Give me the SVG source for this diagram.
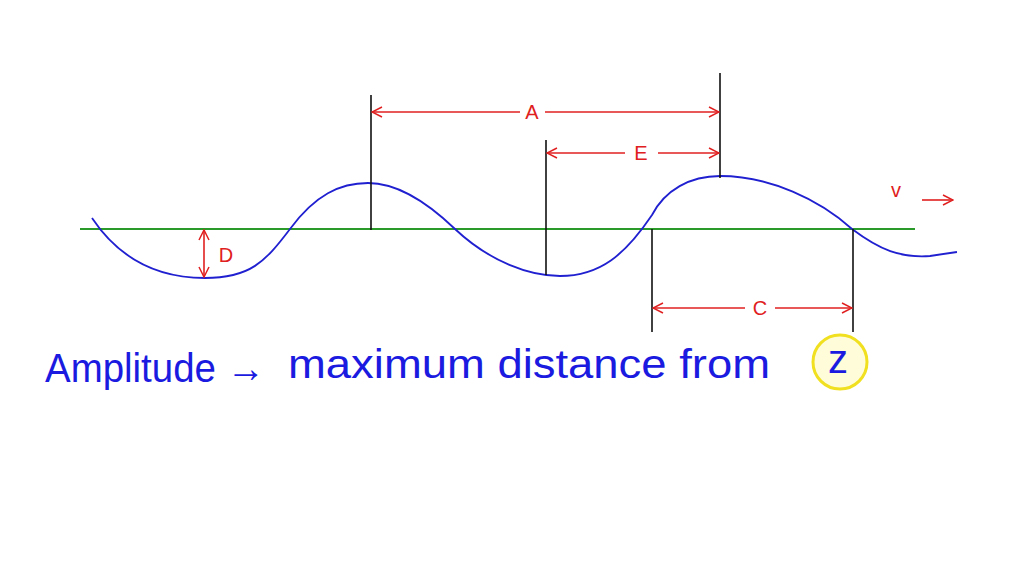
<svg xmlns="http://www.w3.org/2000/svg" width="1024" height="576" viewBox="0 0 1024 576">
<defs>
<marker id="ah" markerWidth="12" markerHeight="12" refX="11" refY="6" orient="auto-start-reverse" markerUnits="userSpaceOnUse">
<path d="M1,1 L11,6 L1,11" fill="none" stroke="#e02020" stroke-width="1.5"/>
</marker>
</defs>
<style>
.blk{stroke:#111;stroke-width:1.6;fill:none}
.red{stroke:#e02020;stroke-width:1.6;fill:none}
.rt{fill:#e02020;font-family:"Liberation Sans",sans-serif;font-size:20px;text-anchor:middle}
.bt{fill:#1a1ae0;font-family:"Liberation Sans",sans-serif;font-size:40px}
</style>
<rect width="1024" height="576" fill="#fff"/>
<line x1="80" y1="229" x2="915" y2="229" stroke="#2a9a2a" stroke-width="1.8"/>
<path d="M92,218 C120,260 160,278 205,278 C250,278 265,262 290,229 C315,195 340,183 368,183 C400,183 430,205 455,229 C490,262 530,276 560,276 C600,276 625,255 652,215 C665,190 690,176 720,176 C770,176 820,200 852,229 C880,250 900,258 930,256 L957,252" fill="none" stroke="#2020d0" stroke-width="1.8"/>
<g id="verticals">
<line class="blk" x1="371" y1="95" x2="371" y2="230"/>
<line class="blk" x1="720" y1="73" x2="720" y2="178"/>
<line class="blk" x1="546" y1="140" x2="546" y2="275"/>
<line class="blk" x1="652" y1="229" x2="652" y2="332"/>
<line class="blk" x1="853" y1="229" x2="853" y2="332"/>
</g>
<g id="connectors">
<line class="red" x1="372" y1="112" x2="520" y2="112" marker-start="url(#ah)"/>
<line class="red" x1="545" y1="112" x2="719" y2="112" marker-end="url(#ah)"/>
<line class="red" x1="547" y1="153" x2="625" y2="153" marker-start="url(#ah)"/>
<line class="red" x1="658" y1="153" x2="719" y2="153" marker-end="url(#ah)"/>
<line class="red" x1="653" y1="308" x2="745" y2="308" marker-start="url(#ah)"/>
<line class="red" x1="775" y1="308" x2="852" y2="308" marker-end="url(#ah)"/>
<line class="red" x1="204" y1="230" x2="204" y2="277" marker-start="url(#ah)" marker-end="url(#ah)"/>
<line class="red" x1="922" y1="200" x2="953" y2="200" marker-end="url(#ah)"/>
</g>
<text class="rt" x="532" y="119">A</text>
<text class="rt" x="641" y="160">E</text>
<text class="rt" x="760" y="315">C</text>
<text class="rt" x="226" y="262">D</text>
<text class="rt" x="896" y="197">v</text>
<circle cx="840" cy="362" r="27" fill="#fff8a0" fill-opacity="0.4" stroke="#f0e020" stroke-width="3"/>
<text class="bt" x="45" y="382" textLength="220" lengthAdjust="spacingAndGlyphs">Amplitude →</text>
<text class="bt" x="288" y="378" textLength="482" lengthAdjust="spacingAndGlyphs">maximum distance from</text>
<text class="bt" x="828" y="373" font-size="28">z</text>
</svg>
